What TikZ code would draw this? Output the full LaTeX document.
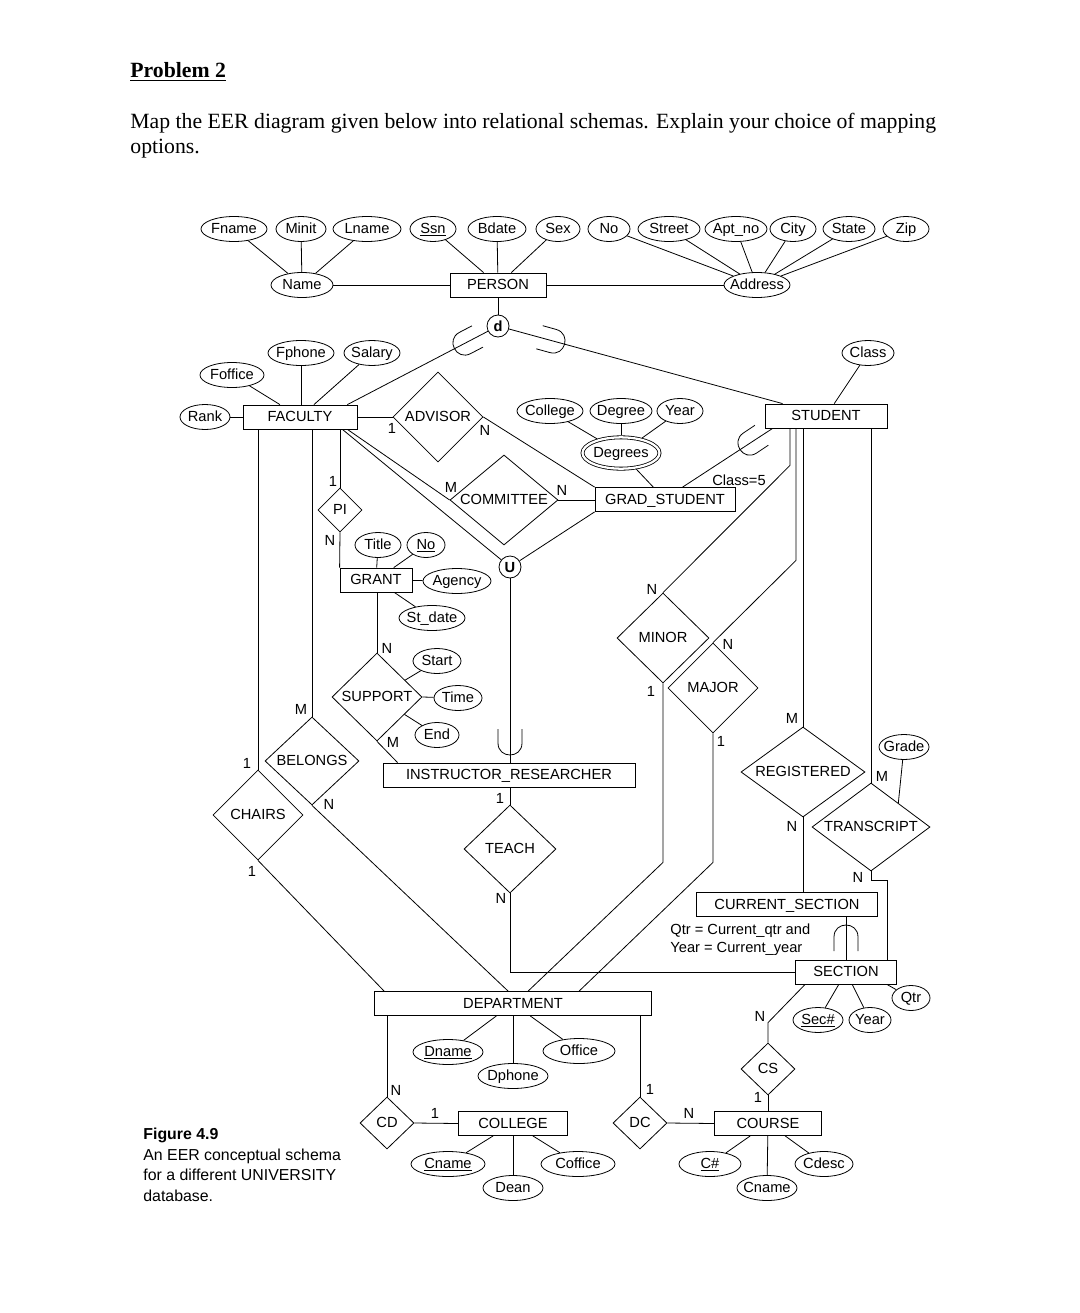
\documentclass[tikz,border=0pt]{standalone}
\usepackage{fontspec}
\setmainfont{Liberation Serif}
\newfontfamily\dfont{Liberation Sans}
\usetikzlibrary{shapes.geometric,calc}
\newcommand\ztxt[1]{\makebox[0pt][c]{#1}}
\tikzset{
  dtext/.style={font=\dfont\fontsize{11}{13}\selectfont},
  ent/.style={draw, rectangle, dtext, inner sep=0pt, text height=8pt, text depth=1pt, minimum width=#1*0.75pt, minimum height=18pt},
  att/.style={draw, ellipse, dtext, inner sep=0pt, text height=8pt, text depth=1pt, minimum width=#1*0.75pt, minimum height=18.75pt},
  rel/.style 2 args={draw, diamond, dtext, inner sep=0pt, text height=8pt, text depth=1pt, minimum width=#1*1.5pt, minimum height=#2*1.5pt},
  card/.style={dtext, inner sep=0pt},
  spec/.style={draw, circle, inner sep=0pt, text height=8pt, text depth=0.5pt, minimum size=16.5pt, font=\dfont\bfseries\fontsize{11}{13}\selectfont},
  cupsym/.pic={\draw (-12,-14) -- (-12,0) .. controls (-12,16) and (12,16) .. (12,0) -- (12,-14);},
}
\begin{document}
\begin{tikzpicture}[x=0.75pt, y=-0.75pt, line width=0.6pt]
\fill[white] (0,0) rectangle (1080,1313);
\useasboundingbox (0,0) rectangle (1080,1313);

% ---------- heading ----------
\node[anchor=base west, inner sep=0pt, font=\fontsize{16.3}{19}\selectfont\bfseries] (ttl) at (130,78) {\underline{Problem 2}};
\node[anchor=base west, inner sep=0pt, font=\fontsize{16.3}{19}\selectfont] (p1) at (130,128) {Map the EER diagram given below into relational schemas. Explain your choice of mapping};
\node[anchor=base west, inner sep=0pt, font=\fontsize{16.3}{19}\selectfont] (p2) at (130,153) {options.};

% ---------- caption ----------
\node[anchor=base west, inner sep=0pt, font=\dfont\bfseries\fontsize{11.9}{14}\selectfont] (cap1) at (143,1139) {Figure 4.9};
\node[anchor=base west, inner sep=0pt, font=\dfont\fontsize{11.9}{14}\selectfont] (cap2) at (143,1160) {An EER conceptual schema};
\node[anchor=base west, inner sep=0pt, font=\dfont\fontsize{11.9}{14}\selectfont] (cap3) at (143,1180) {for a different UNIVERSITY};
\node[anchor=base west, inner sep=0pt, font=\dfont\fontsize{11.9}{14}\selectfont] (cap4) at (143,1201) {database.};

% ---------- PERSON ----------
\node[att=66] (fname) at (234,229) {\ztxt{Fname}};
\node[att=50] (minit) at (301,229) {\ztxt{Minit}};
\node[att=68] (lname) at (367,229) {\ztxt{Lname}};
\node[att=46] (ssn) at (433,229) {\ztxt{\underline{Ssn}}};
\node[att=58] (bdate) at (497,229) {\ztxt{Bdate}};
\node[att=44] (sex) at (558,229) {\ztxt{Sex}};
\node[att=42] (no0) at (609,229) {\ztxt{No}};
\node[att=62] (street) at (669,229) {\ztxt{Street}};
\node[att=62] (aptno) at (736,229) {\ztxt{Apt\_no}};
\node[att=46] (city) at (793,229) {\ztxt{City}};
\node[att=52] (state) at (849,229) {\ztxt{State}};
\node[att=46] (zip) at (906,229) {\ztxt{Zip}};
\node[att=62] (nameatt) at (302,285) {\ztxt{Name}};
\node[ent=96] (person) at (498,285) {PERSON};
\node[att=66] (address) at (757,285) {\ztxt{Address}};
\node[spec] (dcirc) at (498,326) {d};

% ---------- FACULTY ----------
\node[att=66] (fphone) at (301,353) {\ztxt{Fphone}};
\node[att=56] (salary) at (372,353) {\ztxt{Salary}};
\node[att=64] (foffice) at (232,375) {\ztxt{Foffice}};
\node[att=50] (rank) at (205,417) {\ztxt{Rank}};
\node[ent=114] (faculty) at (300,417) {FACULTY};
\node[rel={45}{45}] (advisor) at (438,417) {\ztxt{ADVISOR}};

% ---------- STUDENT / GRAD ----------
\node[att=52] (class) at (868,353) {\ztxt{Class}};
\node[ent=122] (student) at (826,416) {STUDENT};
\node[att=66] (college) at (550,411) {\ztxt{College}};
\node[att=62] (degree) at (621,411) {\ztxt{Degree}};
\node[att=46] (year) at (680,411) {\ztxt{Year}};
\node[att=77, minimum height=23.5pt, double, double distance=1.7pt, outer sep=1.4pt] (degrees) at (621,453) {\ztxt{Degrees}};
\node[rel={54}{45}] (committee) at (504,500) {\ztxt{COMMITTEE}};
\node[ent=140] (grad) at (665,499.5) {GRAD\_STUDENT};
\node[card] (classeq) at (739,480) {Class=5};

% ---------- GRANT ----------
\node[rel={22}{22}] (pi) at (340,510) {\ztxt{PI}};
\node[att=46] (title) at (378,545) {\ztxt{Title}};
\node[att=38] (no1) at (426,545) {\ztxt{\underline{No}}};
\node[ent=72] (grant) at (376,580) {GRANT};
\node[att=68] (agency) at (457,581) {\ztxt{Agency}};
\node[att=66] (stdate) at (432,618) {\ztxt{St\_date}};
\node[spec] (ucirc) at (510,567) {U};
\node[rel={45}{44}] (support) at (377,697) {\ztxt{SUPPORT}};
\node[att=48] (startatt) at (437,661) {\ztxt{Start}};
\node[att=48] (timeatt) at (458,698) {\ztxt{Time}};
\node[att=44] (endatt) at (437,735) {\ztxt{End}};

% ---------- middle ----------
\node[rel={46}{45}] (minor) at (663,638) {\ztxt{MINOR}};
\node[rel={45}{45}] (major) at (713,688) {\ztxt{MAJOR}};
\node[rel={47}{44}] (belongs) at (312,761) {\ztxt{BELONGS}};
\node[rel={45}{45}] (chairs) at (258,815) {\ztxt{CHAIRS}};
\node[ent=252] (instr) at (509,775) {INSTRUCTOR\_RESEARCHER};
\node[rel={62}{45}] (registered) at (803,772) {\ztxt{REGISTERED}};
\node[att=50] (grade) at (904,747) {\ztxt{Grade}};
\node[rel={59}{44}] (transcript) at (871,827) {\ztxt{TRANSCRIPT}};
\node[rel={46}{44}] (teach) at (510,849) {\ztxt{TEACH}};
\node[ent=181] (cursec) at (787,904.5) {CURRENT\_SECTION};
\node[card, anchor=west] (cond1) at (670,931) {Qtr = Current\_qtr and};
\node[card, anchor=west] (cond2) at (670,949) {Year = Current\_year};
\node[ent=101] (section) at (846,972) {SECTION};
\node[att=50] (secno) at (818,1020) {\ztxt{\underline{Sec\#}}};
\node[att=42] (year2) at (870,1020) {\ztxt{Year}};
\node[att=38] (qtr) at (911,998) {\ztxt{Qtr}};

% ---------- bottom ----------
\node[ent=277] (dept) at (513,1003.5) {DEPARTMENT};
\node[att=70] (dname) at (448,1052) {\ztxt{\underline{Dname}}};
\node[att=70] (dphone) at (513,1076) {\ztxt{Dphone}};
\node[att=72] (office) at (579,1051) {\ztxt{Office}};
\node[rel={27}{26}] (cs) at (768,1069) {\ztxt{CS}};
\node[rel={27}{26}] (cd) at (387,1123) {\ztxt{CD}};
\node[ent=109] (college2) at (513,1123.5) {COLLEGE};
\node[rel={27}{26}] (dc) at (640,1123) {\ztxt{DC}};
\node[ent=107] (course) at (768,1123.5) {COURSE};
\node[att=74] (cname) at (448,1164) {\ztxt{\underline{Cname}}};
\node[att=60] (dean) at (513,1188) {\ztxt{Dean}};
\node[att=74] (coffice) at (578,1164) {\ztxt{Coffice}};
\node[att=62] (cno) at (710,1164) {\ztxt{\underline{C\#}}};
\node[att=60] (cname2) at (767,1188) {\ztxt{Cname}};
\node[att=58] (cdesc) at (824,1164) {\ztxt{Cdesc}};

% ---------- cardinalities ----------
\node[card] (k1) at (392,428) {1};
\node[card] (k2) at (485,430) {N};
\node[card] (k3) at (451,487) {M};
\node[card] (k4) at (562,490) {N};
\node[card] (k5) at (333,481) {1};
\node[card] (k6) at (330,540) {N};
\node[card] (k7) at (387,648) {N};
\node[card] (k8) at (393,742) {M};
\node[card] (k9) at (301,709) {M};
\node[card] (k10) at (329,804) {N};
\node[card] (k11) at (247,763) {1};
\node[card] (k12) at (252,871) {1};
\node[card] (k13) at (500,798) {1};
\node[card] (k14) at (501,898) {N};
\node[card] (k15) at (652,589) {N};
\node[card] (k16) at (651,691) {1};
\node[card] (k17) at (728,644) {N};
\node[card] (k18) at (721,741) {1};
\node[card] (k19) at (792,718) {M};
\node[card] (k20) at (792,826) {N};
\node[card] (k21) at (882,776) {M};
\node[card] (k22) at (858,877) {N};
\node[card] (k23) at (760,1016) {N};
\node[card] (k24) at (758,1097) {1};
\node[card] (k25) at (396,1090) {N};
\node[card] (k26) at (435,1113) {1};
\node[card] (k27) at (650,1089) {1};
\node[card] (k28) at (689,1113) {N};

% ---------- connectors: attributes ----------
\draw (fname) -- (nameatt);
\draw (minit) -- (nameatt);
\draw (lname) -- (nameatt);
\draw (nameatt) -- (person);
\draw (ssn) -- (person);
\draw (bdate) -- (person);
\draw (sex) -- (person);
\draw (person) -- (address);
\draw (no0) -- (address);
\draw (street) -- (address);
\draw (aptno) -- (address);
\draw (city) -- (address);
\draw (state) -- (address);
\draw (zip) -- (address);
\draw (rank) -- (faculty);
\draw (foffice) -- (faculty);
\draw (fphone) -- (fphone |- faculty.north);
\draw (salary) -- (faculty);
\draw (class) -- (student);
\draw (college) -- (degrees);
\draw (degree) -- (degrees);
\draw (year) -- (degrees);
\draw (degrees) -- (grad);
\draw (title) -- (grant);
\draw (no1) -- (grant);
\draw (agency) -- (grant);
\draw (stdate) -- (grant);
\draw (startatt) -- (support);
\draw (support.east) -- (timeatt);
\draw (endatt) -- (support);
\draw (grade) -- ($(transcript.north)!0.46!(transcript.east)$);
\draw (secno) -- (section);
\draw (year2) -- (section);
\draw (qtr) -- ($(section.south east)+(-10,0)$);
\draw (dname) -- (dept);
\draw (dphone) -- (dept);
\draw (office) -- (dept);
\draw (cname) -- (college2);
\draw (dean) -- (college2);
\draw (coffice) -- (college2);
\draw (cno) -- (course);
\draw (cname2) -- (course);
\draw (cdesc) -- (course);

% ---------- specialisation / union ----------
\draw (person) -- (dcirc);
\draw (dcirc) -- ($(faculty.north east)+(-10,0)$);
\draw (dcirc) -- ($(student.north west)+(18,0)$);
\draw ($(student.south west)+(8,0)$) -- ($(grad.north west)+(88,0)$);
\draw ($(faculty.south east)+(-15,0)$) -- (ucirc);
\draw (grad.south west) -- (ucirc);
\draw (ucirc) -- (ucirc |- instr.north);
\draw (cursec.south -| section.north) -- (section.north);
\pic[rotate=-62.4] at (465,343) {cupsym};
\pic[rotate=74.5] at (553,341) {cupsym};
\pic[rotate=-56.3] at (750,443) {cupsym};
\pic[rotate=180] at (846,937) {cupsym};
\pic at (510,743) {cupsym};

% ---------- relationships ----------
\draw (faculty.east) -- (advisor.west);
\draw (advisor.east) -- (grad.north west);
\draw ($(faculty.south east)+(-10,0)$) -- (committee.west);
\draw (committee.east) -- (committee.east -| grad.west);
\draw (pi.north |- faculty.south) -- (pi.north);
\draw (pi.south) -- (grant.north west);
\draw (grant.south -| support.north) -- (support.north);
\draw (support.south) -- ($(instr.north west)+(15,0)$);
\draw (belongs.north |- faculty.south) -- (belongs.north);
\draw (belongs.south) -- ($(dept.north west)+(134,0)$);
\draw (chairs.north |- faculty.south) -- (chairs.north);
\draw (chairs.south) -- ($(dept.north west)+(10,0)$);
\draw (instr.south -| teach.north) -- (teach.north);
\draw (teach.south) |- (section.west);
\draw ($(student.south)+(-36,0)$) -- ++(0,37) -- (minor.north);
\draw ($(student.south)+(-30,0)$) -- ++(0,132) -- (major.north);
\draw (minor.south) -- ++(0,179) -- ($(dept.north west)+(154,0)$);
\draw (major.south) -- ++(0,129) -- ($(dept.north west)+(205,0)$);
\draw (registered.north |- student.south) -- (registered.north);
\draw (registered.south) -- (registered.south |- cursec.north);
\draw (transcript.north |- student.south) -- (transcript.north);
\draw (transcript.south) -- ++(0,9) -| ($(section.north east)+(-10,0)$);
\draw ($(section.south west)+(10,0)$) -- ($(cs.north)+(0,-20)$) -- (cs.north);
\draw (cs.south) -- (cs.south |- course.north);
\draw (dept.south -| cd.north) -- (cd.north);
\draw (cd.east) -- (college2.west);
\draw (dept.south -| dc.north) -- (dc.north);
\draw (dc.east) -- (course.west);
\end{tikzpicture}
\end{document}
